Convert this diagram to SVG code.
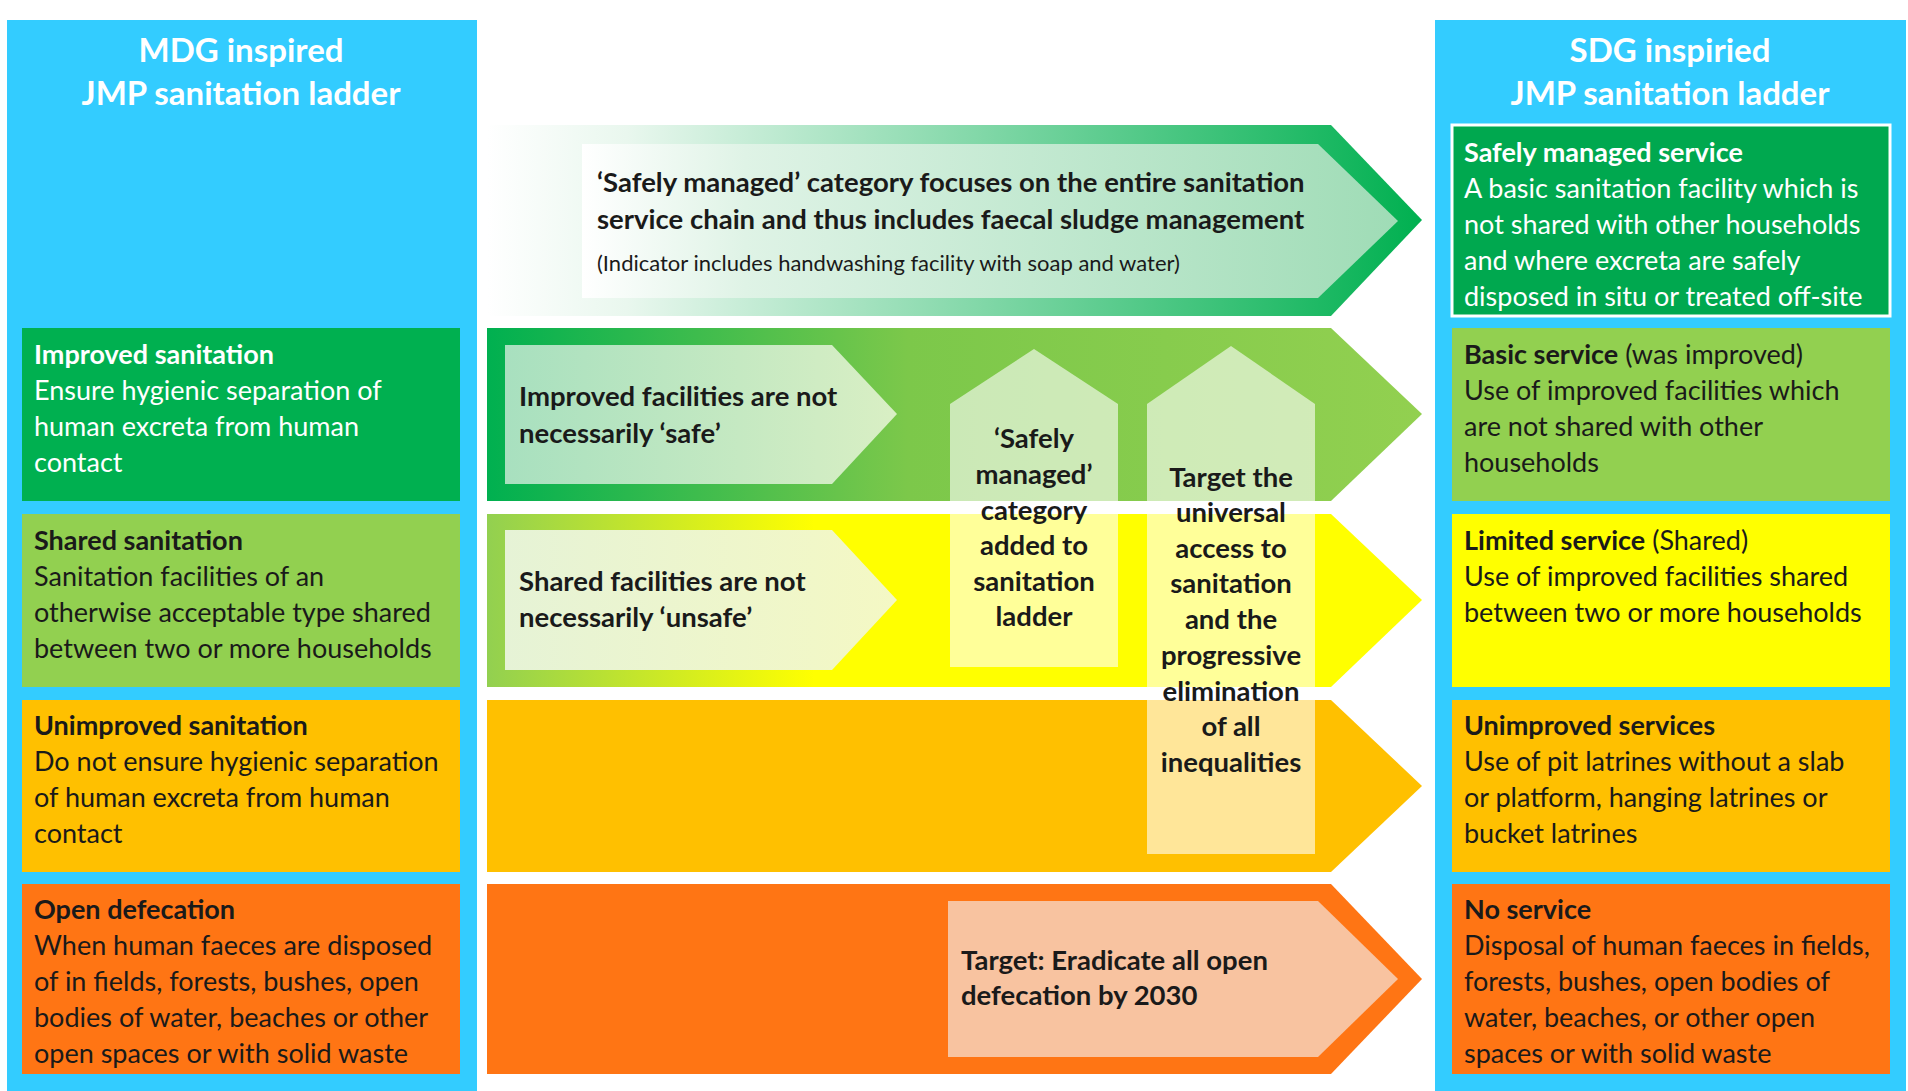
<svg xmlns="http://www.w3.org/2000/svg" width="1908" height="1091" viewBox="0 0 1908 1091">
<style>
text{font-family:Lato,"Open Sans","Liberation Sans",sans-serif;font-size:27px;fill:#1a1a1a}
.t{font-size:33px;font-weight:bold;fill:#fff;text-anchor:middle}
.b{font-weight:bold}
.w{fill:#fff}
.m{font-size:27.5px;font-weight:bold}
.c{text-anchor:middle}
.s{font-size:22px}
</style>
<defs>
<linearGradient id="g1" x1="0" x2="1"><stop offset="0" stop-color="#fff"/><stop offset="0.15" stop-color="#e9f7ee"/><stop offset="1" stop-color="#00b050"/></linearGradient>
<linearGradient id="g1i" x1="0" x2="1"><stop offset="0" stop-color="#fff"/><stop offset="0.2" stop-color="#dff3e6"/><stop offset="1" stop-color="#9fdcb6"/></linearGradient>
<linearGradient id="g2" x1="0" x2="1"><stop offset="0" stop-color="#00b050"/><stop offset="0.45" stop-color="#7cc84a"/><stop offset="1" stop-color="#92d050"/></linearGradient>
<linearGradient id="g2i" x1="0" x2="1"><stop offset="0" stop-color="#a8e0bf"/><stop offset="1" stop-color="#d9efc4"/></linearGradient>
<linearGradient id="g3" x1="0" x2="1"><stop offset="0" stop-color="#92d050"/><stop offset="0.35" stop-color="#ffff00"/><stop offset="1" stop-color="#ffff00"/></linearGradient>
<linearGradient id="g3i" x1="0" x2="1"><stop offset="0" stop-color="#e6f3d6"/><stop offset="1" stop-color="#f4f8c4"/></linearGradient>
</defs>
<g id="mdg-panel"><rect x="7" y="20" width="470" height="1071" fill="#33ccff"/>
<text class="t" x="241" y="62">MDG inspired</text><text class="t" x="241" y="105">JMP sanitation ladder</text></g>
<g id="sdg-panel"><rect x="1435" y="20" width="471" height="1071" fill="#33ccff"/>
<text class="t" x="1670" y="62">SDG inspiried</text><text class="t" x="1670" y="105">JMP sanitation ladder</text></g>

<g id="mdg-improved"><rect x="22" y="328" width="438" height="173" fill="#00b050"/>
<text x="34" y="364" class="b w">Improved sanitation</text><text x="34" y="400" class="w">Ensure hygienic separation of</text><text x="34" y="436" class="w">human excreta from human</text><text x="34" y="472" class="w">contact</text></g>
<g id="mdg-shared"><rect x="22" y="514" width="438" height="173" fill="#92d050"/>
<text x="34" y="550" class="b">Shared sanitation</text><text x="34" y="586">Sanitation facilities of an</text><text x="34" y="622">otherwise acceptable type shared</text><text x="34" y="658">between two or more households</text></g>
<g id="mdg-unimproved"><rect x="22" y="700" width="438" height="172" fill="#ffc000"/>
<text x="34" y="735" class="b">Unimproved sanitation</text><text x="34" y="771">Do not ensure hygienic separation</text><text x="34" y="807">of human excreta from human</text><text x="34" y="843">contact</text></g>
<g id="mdg-open"><rect x="22" y="884" width="438" height="190" fill="#ff7514"/>
<text x="34" y="919" class="b">Open defecation</text><text x="34" y="955">When human faeces are disposed</text><text x="34" y="991">of in fields, forests, bushes, open</text><text x="34" y="1027">bodies of water, beaches or other</text><text x="34" y="1063">open spaces or with solid waste</text></g>

<g id="sdg-safe"><rect x="1452" y="125" width="438" height="191" fill="#00a84f" stroke="#fff" stroke-width="3"/>
<text x="1464" y="162" class="b w">Safely managed service</text><text x="1464" y="198" class="w">A basic sanitation facility which is</text><text x="1464" y="234" class="w">not shared with other households</text><text x="1464" y="270" class="w">and where excreta are safely</text><text x="1464" y="306" class="w">disposed in situ or treated off-site</text></g>
<g id="sdg-basic"><rect x="1452" y="328" width="438" height="173" fill="#92d050"/>
<text x="1464" y="364"><tspan class="b">Basic service</tspan> (was improved)</text><text x="1464" y="400">Use of improved facilities which</text><text x="1464" y="436">are not shared with other</text><text x="1464" y="472">households</text></g>
<g id="sdg-limited"><rect x="1452" y="514" width="438" height="173" fill="#ffff00"/>
<text x="1464" y="550"><tspan class="b">Limited service</tspan> (Shared)</text><text x="1464" y="586">Use of improved facilities shared</text><text x="1464" y="622">between two or more households</text></g>
<g id="sdg-unimproved"><rect x="1452" y="700" width="438" height="172" fill="#ffc000"/>
<text x="1464" y="735" class="b">Unimproved services</text><text x="1464" y="771">Use of pit latrines without a slab</text><text x="1464" y="807">or platform, hanging latrines or</text><text x="1464" y="843">bucket latrines</text></g>
<g id="sdg-none"><rect x="1452" y="884" width="438" height="190" fill="#ff7514"/>
<text x="1464" y="919" class="b">No service</text><text x="1464" y="955">Disposal of human faeces in fields,</text><text x="1464" y="991">forests, bushes, open bodies of</text><text x="1464" y="1027">water, beaches, or other open</text><text x="1464" y="1063">spaces or with solid waste</text></g>

<g id="connectors">
<polygon points="487,125 1331,125 1422,220 1331,316 487,316" fill="url(#g1)"/>
<polygon points="582,144 1318,144 1398,221 1318,298 582,298" fill="url(#g1i)"/>
<polygon points="487,328 1331,328 1422,414 1331,501 487,501" fill="url(#g2)"/>
<polygon points="487,514 1331,514 1422,600 1331,687 487,687" fill="url(#g3)"/>
<polygon points="487,700 1331,700 1422,786 1331,872 487,872" fill="#ffc000"/>
<polygon points="487,884 1331,884 1422,979 1331,1074 487,1074" fill="#ff7514"/>
<polygon points="948,901 1318,901 1398,979 1318,1057 948,1057" fill="#f8c3a0"/>
<polygon points="505,345 832,345 897,414 832,484 505,484" fill="url(#g2i)"/>
<polygon points="505,530 832,530 897,600 832,670 505,670" fill="url(#g3i)"/>
<polygon points="950,404 1034,349 1118,404 1118,667 950,667" fill="#fff" fill-opacity="0.6"/>
<polygon points="1147,404 1231,346 1315,404 1315,854 1147,854" fill="#fff" fill-opacity="0.6"/>
</g>
<g id="labels">
<text class="m" x="597" y="192">‘Safely managed’ category focuses on the entire sanitation</text>
<text class="m" x="597" y="229">service chain and thus includes faecal sludge management</text>
<text class="s" x="597" y="271">(Indicator includes handwashing facility with soap and water)</text>
<text class="m" x="519" y="406">Improved facilities are not</text><text class="m" x="519" y="443">necessarily ‘safe’</text>
<text class="m" x="519" y="591">Shared facilities are not</text><text class="m" x="519" y="627">necessarily ‘unsafe’</text>
<text class="m c" x="1034" y="448">‘Safely</text><text class="m c" x="1034" y="484">managed’</text><text class="m c" x="1034" y="520">category</text><text class="m c" x="1034" y="555">added to</text><text class="m c" x="1034" y="591">sanitation</text><text class="m c" x="1034" y="626">ladder</text>
<text class="m c" x="1231" y="487">Target the</text><text class="m c" x="1231" y="522">universal</text><text class="m c" x="1231" y="558">access to</text><text class="m c" x="1231" y="593">sanitation</text><text class="m c" x="1231" y="629">and the</text><text class="m c" x="1231" y="665">progressive</text><text class="m c" x="1231" y="701">elimination</text><text class="m c" x="1231" y="736">of all</text><text class="m c" x="1231" y="772">inequalities</text>
<text class="m" x="961" y="970">Target: Eradicate all open</text><text class="m" x="961" y="1005">defecation by 2030</text>
</g>
</svg>
